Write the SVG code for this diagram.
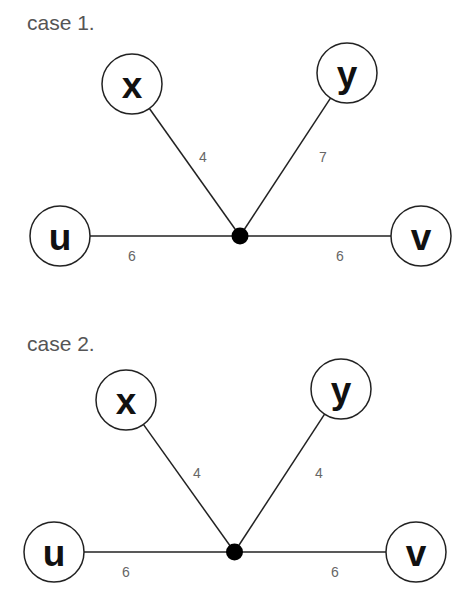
<svg xmlns="http://www.w3.org/2000/svg" width="474" height="609" viewBox="0 0 474 609">
<style>
.bg{fill:#ffffff}
.node circle{fill:#ffffff;stroke:#222222;stroke-width:1.5}
.node text{font-family:"Liberation Sans",Arial,sans-serif;font-weight:bold;font-size:37px;fill:#111111;text-anchor:middle}
.dot{fill:#000000}
.edges line{stroke:#222222;stroke-width:1.5}
.lbl{font-family:"Liberation Sans",Arial,sans-serif;font-size:14px;fill:#666666;text-anchor:middle}
.title{font-family:"Liberation Sans",Arial,sans-serif;font-size:21px;fill:#555555}
</style>
<rect class="bg" x="0" y="0" width="474" height="609"/>
<text class="title" x="27" y="30">case 1.</text>
<text class="title" x="27" y="351">case 2.</text>
<g id="edges" class="edges">
<line x1="149.4" y1="108.5" x2="240" y2="236"/>
<line x1="330.5" y1="98.1" x2="240" y2="236"/>
<line x1="90" y1="236" x2="240" y2="236"/>
<line x1="240" y1="236" x2="391" y2="236"/>
<line x1="143.4" y1="424.4" x2="234.5" y2="552"/>
<line x1="324.6" y1="414.1" x2="234.5" y2="552"/>
<line x1="84" y1="552" x2="234.5" y2="552"/>
<line x1="234.5" y1="552" x2="386" y2="552"/>
</g>
<g id="edge-labels">
<text class="lbl" x="203" y="162">4</text>
<text class="lbl" x="323" y="162">7</text>
<text class="lbl" x="132" y="261">6</text>
<text class="lbl" x="340" y="261">6</text>
<text class="lbl" x="197" y="478">4</text>
<text class="lbl" x="319" y="478">4</text>
<text class="lbl" x="126" y="577">6</text>
<text class="lbl" x="335" y="577">6</text>
</g>
<g id="c1-x" class="node"><circle cx="132" cy="84" r="30"/><text x="132" y="97.5">x</text></g>
<g id="c1-y" class="node"><circle cx="347" cy="73" r="30"/><text x="347" y="86.5">y</text></g>
<g id="c1-u" class="node"><circle cx="60" cy="236" r="30"/><text x="60" y="249.5">u</text></g>
<g id="c1-v" class="node"><circle cx="421" cy="236" r="30"/><text x="421" y="249.5">v</text></g>
<g id="c1-hub"><circle class="dot" cx="240" cy="236" r="8.5"/></g>
<g id="c2-x" class="node"><circle cx="126" cy="400" r="30"/><text x="126" y="413.5">x</text></g>
<g id="c2-y" class="node"><circle cx="341" cy="389" r="30"/><text x="341" y="402.5">y</text></g>
<g id="c2-u" class="node"><circle cx="54" cy="552" r="30"/><text x="54" y="565.5">u</text></g>
<g id="c2-v" class="node"><circle cx="416" cy="552" r="30"/><text x="416" y="565.5">v</text></g>
<g id="c2-hub"><circle class="dot" cx="234.5" cy="552" r="8.5"/></g>
</svg>
